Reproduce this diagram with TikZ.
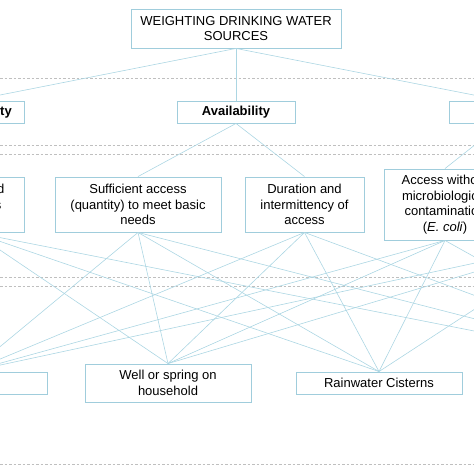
\documentclass[tikz,border=0pt]{standalone}
\usepackage{fontspec}
\setmainfont{Liberation Sans}
\usepackage{tikz}
\usetikzlibrary{positioning}
\definecolor{boxblue}{RGB}{160,205,220}
\definecolor{linkblue}{RGB}{172,214,227}

\begin{document}
\begin{tikzpicture}[
	x=1pt, y=-1pt,
	font=\fontsize{13}{15.5}\selectfont,
	goal/.style={rectangle, draw=boxblue, line width=0.9pt, fill=white, align=center, inner sep=2pt, minimum width=210pt, minimum height=39pt},
	crit/.style={rectangle, draw=boxblue, line width=0.9pt, fill=white, align=center, inner sep=2pt, minimum height=22pt},
	sub/.style={rectangle, draw=boxblue, line width=0.9pt, fill=white, align=center, inner sep=2pt, minimum height=55pt},
	alt/.style={rectangle, draw=boxblue, line width=0.9pt, fill=white, align=center, inner sep=2pt, minimum height=22pt},
	link/.style={draw=linkblue, line width=0.6pt},
	sep/.style={draw=gray!50, line width=0.7pt, dash pattern=on 2.5pt off 2pt}
	]
	
	\useasboundingbox (0,0) rectangle (474,474);
	\clip (0,0) rectangle (474,474);
	
	% level separators
	\draw[sep] (0,78) -- (474,78);
	\draw[sep] (0,145) -- (474,145);
	\draw[sep] (0,154) -- (474,154);
	\draw[sep] (0,277) -- (474,277);
	\draw[sep] (0,286) -- (474,286);
	\draw[sep] (0,464) -- (474,464);
	
	% goal and criteria
	\node[goal] (goal) at (236, 28.5) {WEIGHTING DRINKING WATER\\SOURCES};
	\node[crit, minimum width=104pt, font=\fontsize{13}{15.5}\selectfont\bfseries] (acc) at (-28, 112) {Accessibility};
	\node[crit, minimum width=118pt, font=\fontsize{13}{15.5}\selectfont\bfseries] (avail) at (236, 112) {Availability};
	\node[crit, minimum width=106pt] (qual) at (502, 112) {};
	
	% sub-criteria
	\node[sub, minimum width=100pt] (c0) at (-26, 204.5) {Travel and\\distances\\to source};
	\node[sub, minimum width=166pt] (c1) at (138, 204.5) {Sufficient access\\(quantity) to meet basic\\needs};
	\node[sub, minimum width=119pt] (c2) at (304.5, 204.5) {Duration and\\intermittency of\\access};
	\node[sub, minimum width=122pt, minimum height=71pt] (c3) at (445, 204.5) {Access without\\microbiological\\contamination\\(\textit{E. coli})};
	\node[sub, minimum width=110pt, minimum height=71pt] (c4) at (580, 204.5) {};
	
	% alternatives
	\node[alt, minimum width=154pt] (a0) at (-30, 383) {};
	\node[alt, minimum width=166pt, minimum height=38pt] (a1) at (168, 383) {Well or spring on\\household};
	\node[alt, minimum width=166pt] (a2) at (379, 383) {Rainwater Cisterns};
	\node[alt, minimum width=160pt] (a3) at (680, 383) {};
	
	% goal to criteria
	\draw[link] (goal.south) -- (acc.north);
	\draw[link] (goal.south) -- (avail.north);
	\draw[link] (goal.south) -- (qual.north);
	
	% criteria to sub-criteria
	\draw[link] (acc.south) -- (c0.north);
	\draw[link] (avail.south) -- (c1.north);
	\draw[link] (avail.south) -- (c2.north);
	\draw[link] (qual.south) -- (c3.north);
	\draw[link] (qual.south) -- (c4.north);
	
	% sub-criteria to alternatives
	\draw[link] (c0.south) -- (a0.north);
	\draw[link] (c0.south) -- (a1.north);
	\draw[link] (c0.south) -- (a2.north);
	\draw[link] (c0.south) -- (a3.north);
	\draw[link] (c1.south) -- (a0.north);
	\draw[link] (c1.south) -- (a1.north);
	\draw[link] (c1.south) -- (a2.north);
	\draw[link] (c1.south) -- (a3.north);
	\draw[link] (c2.south) -- (a0.north);
	\draw[link] (c2.south) -- (a1.north);
	\draw[link] (c2.south) -- (a2.north);
	\draw[link] (c2.south) -- (a3.north);
	\draw[link] (c3.south) -- (a0.north);
	\draw[link] (c3.south) -- (a1.north);
	\draw[link] (c3.south) -- (a2.north);
	\draw[link] (c3.south) -- (a3.north);
	\draw[link] (c4.south) -- (a0.north);
	\draw[link] (c4.south) -- (a1.north);
	\draw[link] (c4.south) -- (a2.north);
	\draw[link] (c4.south) -- (a3.north);
	
\end{tikzpicture}
\end{document}
